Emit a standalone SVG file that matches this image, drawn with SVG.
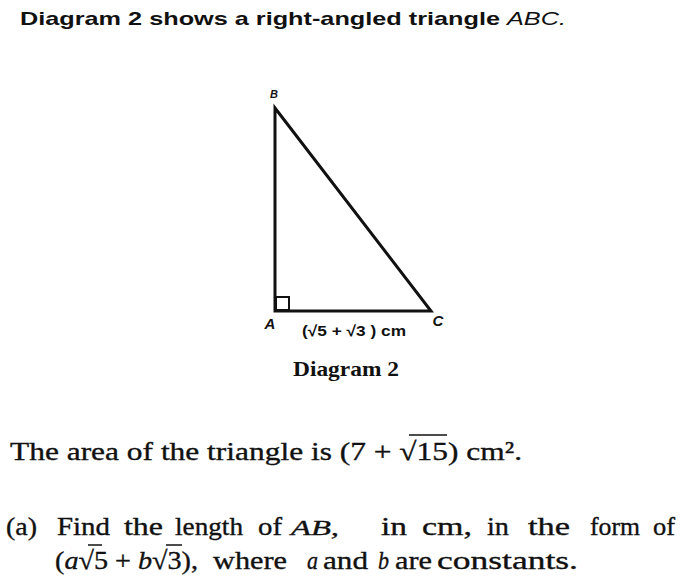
<svg xmlns="http://www.w3.org/2000/svg" width="681" height="584" viewBox="0 0 681 584">
<style>
.title{font-family:"Liberation Sans",Arial,sans-serif;font-weight:bold;font-size:19px;fill:#111}
.serif{font-family:"Liberation Serif","Times New Roman",serif;font-size:26px;fill:#111;stroke:#111;stroke-width:0.35}
.it{font-style:italic}
.lbl{font-family:"Liberation Sans",Arial,sans-serif;font-weight:bold;font-style:italic;font-size:15px;fill:#111}
.small{font-family:"Liberation Sans",Arial,sans-serif;font-weight:bold;font-size:15px;fill:#111}
.cap{font-family:"Liberation Serif","Times New Roman",serif;font-size:21px;font-weight:bold;fill:#111}
.edge{stroke:#111;stroke-width:3;fill:none;stroke-linejoin:miter}
.bar{stroke:#111;stroke-width:1.5}
</style>
<rect width="681" height="584" fill="#fff"/>
<text class="title" x="20" y="25" textLength="546" lengthAdjust="spacingAndGlyphs">Diagram 2 shows a right-angled triangle <tspan font-style="italic" font-weight="normal">ABC.</tspan></text>
<g id="triangle">
<polygon class="edge" points="275,108 275,311 431,311"/>
<rect x="276" y="297" width="13" height="13" fill="none" stroke="#111" stroke-width="2"/>
</g>
<g id="labels">
<text class="lbl" x="274" y="98" style="font-size:11px" text-anchor="middle">B</text>
<text class="lbl" x="270" y="329" text-anchor="middle">A</text>
<text class="lbl" x="438" y="326" text-anchor="middle">C</text>
<text class="small" x="302" y="336" textLength="104" lengthAdjust="spacingAndGlyphs">(√5 + √3 ) cm</text>
<text class="cap" x="293" y="376" textLength="106" lengthAdjust="spacingAndGlyphs">Diagram 2</text>
</g>
<g id="text">
<text class="serif" x="10" y="460" textLength="512" lengthAdjust="spacingAndGlyphs">The area of the triangle is (7 + √15) cm²<tspan>.</tspan></text>
<line class="bar" x1="409" y1="435" x2="447" y2="435"/>
<text class="serif" x="6" y="535" textLength="31" lengthAdjust="spacingAndGlyphs">(a)</text>
<text class="serif" x="57" y="535" textLength="53" lengthAdjust="spacingAndGlyphs">Find</text>
<text class="serif" x="124" y="535" textLength="39" lengthAdjust="spacingAndGlyphs">the</text>
<text class="serif" x="175" y="535" textLength="68" lengthAdjust="spacingAndGlyphs">length</text>
<text class="serif" x="258" y="535" textLength="24" lengthAdjust="spacingAndGlyphs">of</text>
<text class="serif it" x="291" y="535" style="font-size:21px" textLength="48" lengthAdjust="spacingAndGlyphs">AB,</text>
<text class="serif" x="381" y="535" textLength="26" lengthAdjust="spacingAndGlyphs">in</text>
<text class="serif" x="422" y="535" textLength="50" lengthAdjust="spacingAndGlyphs">cm,</text>
<text class="serif" x="487" y="535" textLength="22" lengthAdjust="spacingAndGlyphs">in</text>
<text class="serif" x="528" y="535" textLength="42" lengthAdjust="spacingAndGlyphs">the</text>
<text class="serif" x="590" y="535" textLength="50" lengthAdjust="spacingAndGlyphs">form</text>
<text class="serif" x="653" y="535" textLength="22" lengthAdjust="spacingAndGlyphs">of</text>
<text class="serif" x="55" y="569" textLength="143" lengthAdjust="spacingAndGlyphs">(<tspan class="it">a</tspan>√5 + <tspan class="it">b</tspan>√3),</text>
<line class="bar" x1="88" y1="545" x2="102" y2="545"/>
<line class="bar" x1="166" y1="545" x2="182" y2="545"/>
<text class="serif" x="213" y="569" textLength="74" lengthAdjust="spacingAndGlyphs">where</text>
<text class="serif it" x="307" y="569" textLength="11" lengthAdjust="spacingAndGlyphs">a</text>
<text class="serif" x="323" y="569" textLength="45" lengthAdjust="spacingAndGlyphs">and</text>
<text class="serif it" x="378" y="569" textLength="11" lengthAdjust="spacingAndGlyphs">b</text>
<text class="serif" x="395" y="569" textLength="37" lengthAdjust="spacingAndGlyphs">are</text>
<text class="serif" x="437" y="569" textLength="141" lengthAdjust="spacingAndGlyphs">constants.</text>
</g>
</svg>
